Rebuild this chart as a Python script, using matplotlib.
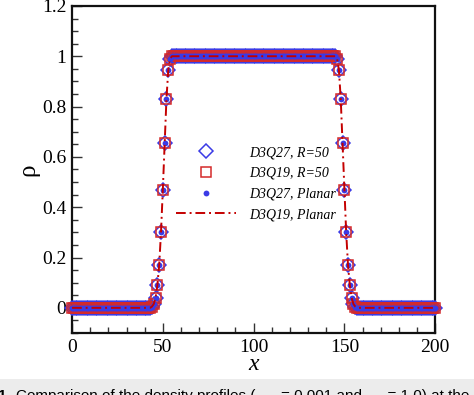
import matplotlib
matplotlib.use("Agg")
import matplotlib.pyplot as plt
from matplotlib.ticker import MultipleLocator, FuncFormatter
from matplotlib.patches import Rectangle

# ---- data ----
x_nodes = list(range(0, 201))
rho_left_edge = [0.005, 0.015, 0.04, 0.09, 0.17, 0.30, 0.47, 0.655, 0.83, 0.945, 0.99]   # x = 44..54
rho_right_edge = [0.99, 0.945, 0.83, 0.655, 0.47, 0.30, 0.17, 0.09, 0.04, 0.015, 0.005]  # x = 146..156
rho_profile = [0.0] * 44 + rho_left_edge + [1.0] * 91 + rho_right_edge + [0.0] * 44

rho_d3q27_r50 = rho_profile
rho_d3q19_r50 = rho_profile
rho_d3q27_planar = rho_profile
rho_d3q19_planar = rho_profile

series_labels = ["D3Q27, R=50", "D3Q19, R=50", "D3Q27, Planar", "D3Q19, Planar"]
x_ticks = [0, 50, 100, 150, 200]
y_ticks = [0, 0.2, 0.4, 0.6, 0.8, 1.0, 1.2]

serif = "Liberation Serif"

fig = plt.figure(figsize=(4.74, 3.95), dpi=100)
ax = fig.add_axes([0.152, 0.157, 0.766, 0.828])

blue = "#3b3be6"
red = "#d42a2a"
dred = "#c40000"

ax.plot(x_nodes, rho_d3q27_r50, linestyle="none", marker="D", ms=7.2, mfc="none",
        mec=blue, mew=1.1, label=series_labels[0], clip_on=False, zorder=3)
ax.plot(x_nodes, rho_d3q19_r50, linestyle="none", marker="s", ms=7.2, mfc="none",
        mec=red, mew=1.1, label=series_labels[1], clip_on=False, zorder=3)
ax.plot(x_nodes, rho_d3q27_planar, linestyle="none", marker="o", ms=4.2, mfc=blue,
        mec=blue, mew=0.0, label=series_labels[2], clip_on=False, zorder=4)
ax.plot(x_nodes, rho_d3q19_planar, linestyle=(0, (5, 2, 1, 2)), color=dred, lw=1.4,
        label=series_labels[3], zorder=5)

ax.set_xlim(0, 200)
ax.set_ylim(-0.1, 1.2)
ax.set_xticks(x_ticks)
ax.set_yticks(y_ticks)
ax.xaxis.set_minor_locator(MultipleLocator(10))
ax.yaxis.set_minor_locator(MultipleLocator(0.05))
ax.yaxis.set_major_formatter(FuncFormatter(lambda v, p: "%g" % round(v, 2)))
ax.tick_params(which="both", direction="in", top=False, right=False, width=1.0, color="#333333")
ax.tick_params(which="major", length=7, labelsize=14, pad=4)
ax.tick_params(which="minor", length=4)
for lab in ax.get_xticklabels() + ax.get_yticklabels():
    lab.set_fontfamily(serif)
for sp in ax.spines.values():
    sp.set_linewidth(1.6)
    sp.set_color("#111111")

ax.set_xlabel("x", fontfamily=serif, fontstyle="italic", fontsize=17, labelpad=-1)
ax.set_ylabel("ρ", fontfamily=serif, fontsize=18, labelpad=2)

leg = ax.legend(loc="center", bbox_to_anchor=(0.54, 0.535), bbox_transform=fig.transFigure,
                frameon=False, handlelength=4.3, handletextpad=1.0, labelspacing=0.55,
                prop={"family": serif, "style": "italic", "size": 10}, numpoints=1)

# cropped caption band at the bottom
fig.patches.append(Rectangle((0, 0), 1, 16 / 395, transform=fig.transFigure,
                             facecolor="#ececec", edgecolor="none", zorder=0))
fig.text(-2 / 474, -5 / 395, "1", fontfamily="Liberation Sans", fontweight="bold",
         fontsize=11, va="baseline", ha="left")
fig.text(16 / 474, -5 / 395,
         "Comparison of the density profiles (      = 0.001 and      = 1.0) at the",
         fontfamily="Liberation Sans", fontsize=11, va="baseline", ha="left")

fig.savefig("out.png", dpi=100)
